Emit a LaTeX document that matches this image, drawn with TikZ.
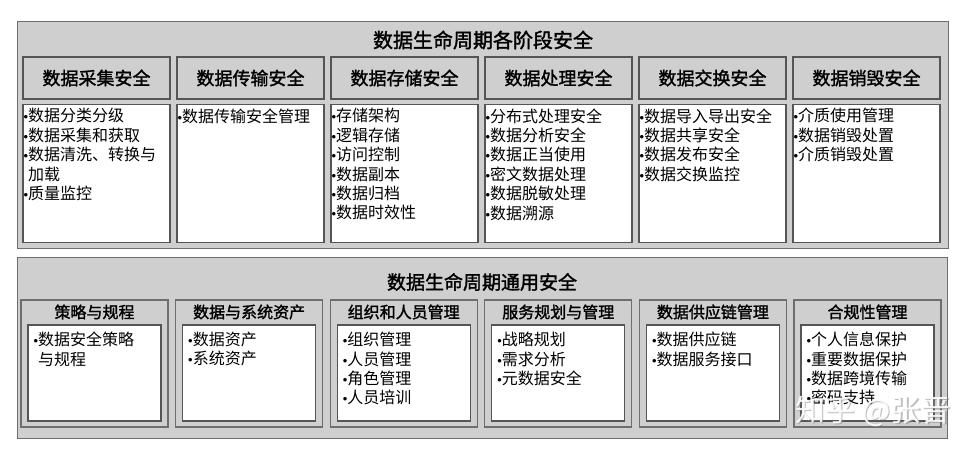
\documentclass[tikz,border=0pt]{standalone}
\usepackage{fontspec}
\setmainfont{Noto Sans CJK SC}
\newfontfamily\headfont[FakeBold=1.6]{Noto Sans CJK SC}
\newfontfamily\latinfont{Liberation Sans}
\usepackage{xcolor}
\usetikzlibrary{positioning}

\definecolor{panelgray}{HTML}{CFCFCF}
\definecolor{edgegray}{HTML}{555555}
\definecolor{framegray}{HTML}{6E6E6E}

\newcommand\blt{{\latinfont\fontsize{13}{13}\selectfont•}}
\newcommand\itm{\blt}
\newcommand\cnt{\phantom{\blt}}

\tikzset{
  frame/.style={draw=framegray, fill=panelgray, line width=1.2pt, inner sep=0pt, anchor=north west},
  titletext/.style={inner sep=0pt, font=\headfont\fontsize{20}{20}\selectfont},
  headbox/.style={draw=edgegray, fill=panelgray, line width=1.4pt, inner sep=0pt,
    minimum width=147pt, minimum height=42pt, font=\headfont\fontsize{18}{18}\selectfont},
  bodybox/.style={draw=edgegray, fill=white, line width=1.2pt, inner sep=0pt,
    minimum width=147pt, minimum height=138pt},
  colbox/.style={draw=framegray, fill=panelgray, line width=1.2pt, inner sep=0pt,
    minimum width=147pt, minimum height=127pt},
  colhead/.style={inner sep=0pt, font=\headfont\fontsize{16}{16}\selectfont},
  innerbox/.style={draw=edgegray, fill=white, line width=1.2pt, inner sep=0pt,
    minimum width=133pt, minimum height=96pt},
  itemtext/.style={inner sep=0pt, anchor=north west, align=left,
    font=\fontsize{16}{19.4}\selectfont},
}

\begin{document}
\begin{tikzpicture}[x=1pt,y=-1pt]
\useasboundingbox (0,0) rectangle (976,452);

% stages of the life cycle
\node[frame, minimum width=931pt, minimum height=227pt] (topframe) at (17,21) {};
\node[titletext] (toptitle) at (483,40) {数据生命周期各阶段安全};
\foreach \i/\h/\b in {
    0/数据采集安全/{\itm 数据分类分级\\\itm 数据采集和获取\\\itm 数据清洗、转换与\\\cnt 加载\\\itm 质量监控},
    1/数据传输安全/{\itm 数据传输安全管理},
    2/数据存储安全/{\itm 存储架构\\\itm 逻辑存储\\\itm 访问控制\\\itm 数据副本\\\itm 数据归档\\\itm 数据时效性},
    3/数据处理安全/{\itm 分布式处理安全\\\itm 数据分析安全\\\itm 数据正当使用\\\itm 密文数据处理\\\itm 数据脱敏处理\\\itm 数据溯源},
    4/数据交换安全/{\itm 数据导入导出安全\\\itm 数据共享安全\\\itm 数据发布安全\\\itm 数据交换监控},
    5/数据销毁安全/{\itm 介质使用管理\\\itm 数据销毁处置\\\itm 介质销毁处置}} {
  \node[headbox] (h\i) at ({96.5+154*\i},78) {\h};
  \node[bodybox, below=4pt of h\i] (b\i) {};
  \node[itemtext] (t\i) at ([xshift=1pt,yshift=-4.5pt]b\i.north west) {\b};
}

% general security
\node[frame, minimum width=930pt, minimum height=181pt] (botframe) at (17,257) {};
\node[titletext, font=\headfont\fontsize{19}{19}\selectfont] (bottitle) at (482,282) {数据生命周期通用安全};
\foreach \i/\h/\b in {
    0/策略与规程/{\itm 数据安全策略\\\cnt 与规程},
    1/数据与系统资产/{\itm 数据资产\\\itm 系统资产},
    2/组织和人员管理/{\itm 组织管理\\\itm 人员管理\\\itm 角色管理\\\itm 人员培训},
    3/服务规划与管理/{\itm 战略规划\\\itm 需求分析\\\itm 元数据安全},
    4/数据供应链管理/{\itm 数据供应链\\\itm 数据服务接口},
    5/合规性管理/{\itm 个人信息保护\\\itm 重要数据保护\\\itm 数据跨境传输\\\itm 密码支持}} {
  \node[colbox] (c\i) at ({94.5+154.6*\i},363.5) {};
  \node[colhead] (ch\i) at ({94.5+154.6*\i},312) {\h};
  \node[innerbox] (ib\i) at ({94.5+154.6*\i},373) {};
  \node[itemtext] (it\i) at ([xshift=6pt,yshift=-7.5pt]ib\i.north west) {\b};
}

% watermark
\node[inner sep=0pt, text=gray, opacity=0.5, font=\fontsize{30}{30}\selectfont] (markshadow) at (874.5,412.5) {知乎 @张晋};
\node[inner sep=0pt, text=white, opacity=0.9, font=\fontsize{30}{30}\selectfont] (mark) at (873,411) {知乎 @张晋};
\end{tikzpicture}
\end{document}
